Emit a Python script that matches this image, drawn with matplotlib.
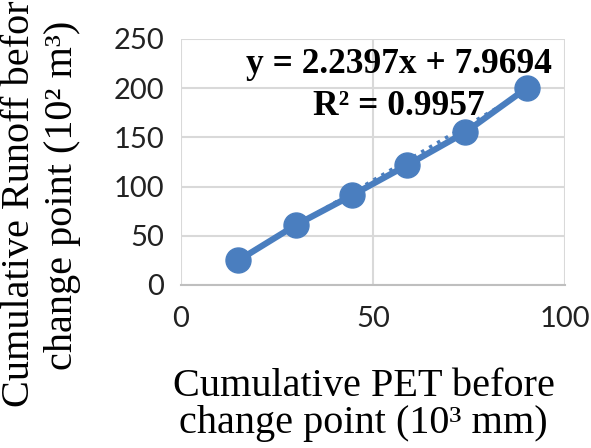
import numpy as np
import matplotlib
matplotlib.use("Agg")
import matplotlib.pyplot as plt

# data
pet = [15, 30, 44.5, 59, 74, 90]
runoff = [25, 61, 91, 122, 155, 200]
eq_text = "y = 2.2397x + 7.9694"
r2_text = "R² = 0.9957"
xticks = [0, 50, 100]
yticks = [0, 50, 100, 150, 200, 250]

blue = "#4a7ebf"
serif = "Liberation Serif"
tick_font = "Lato"

fig = plt.figure(figsize=(5.91, 4.48), dpi=100)
ax = fig.add_axes([0.306, 0.364, 0.65, 0.549])

# linear trendline (dotted, mostly hidden under the series line)
coef = np.polyfit(pet, runoff, 1)
x_tr = np.array([min(pet), max(pet)])
ax.plot(x_tr, np.polyval(coef, x_tr) + 2, linestyle=":",
        color=blue, linewidth=2.5, zorder=3)
ax.plot(pet, runoff, "-o", color=blue, linewidth=4.5, markersize=18,
        zorder=4, clip_on=False)

ax.set_xlim(0, 100)
ax.set_ylim(0, 250)
ax.set_xticks(xticks)
ax.set_yticks(yticks)
ax.grid(True, color="#d9d9d9", linewidth=1.5, zorder=0)
ax.set_axisbelow(True)
for s in ["top", "right", "left"]:
    ax.spines[s].set_visible(False)
ax.spines["bottom"].set_color("#bfbfbf")
ax.spines["bottom"].set_linewidth(1.5)
ax.tick_params(length=0, labelsize=21, labelcolor="#222222")
ax.tick_params(axis="x", pad=15)
ax.tick_params(axis="y", pad=12)
for lab in ax.get_xticklabels() + ax.get_yticklabels():
    lab.set_family(tick_font)

ax.text(0.569, 0.862, eq_text, transform=ax.transAxes, ha="center", va="baseline",
        fontsize=25.5, fontweight="bold", family=serif)
ax.text(0.568, 0.691, r2_text, transform=ax.transAxes, ha="center", va="baseline",
        fontsize=25.5, fontweight="bold", family=serif)

fig.text(0.615, 0.179, "Cumulative PET before\nchange point (10³ mm)",
         ha="center", va="top", fontsize=29, family=serif, linespacing=1.0)
fig.text(0.069, 0.565, "Cumulative Runoff before\nchange point (10² m³)",
         ha="center", va="center", rotation=90, fontsize=29, family=serif,
         linespacing=1.22)

fig.savefig("out.png", dpi=100)
